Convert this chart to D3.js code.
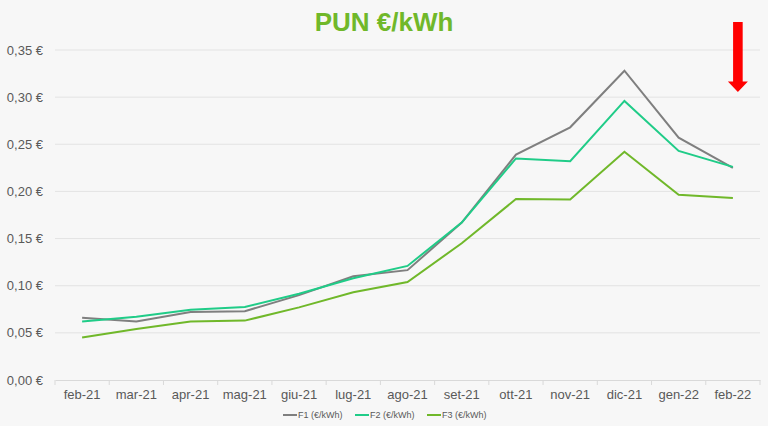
<!DOCTYPE html>
<html>
<head>
<meta charset="utf-8">
<script src="https://cdn.jsdelivr.net/npm/d3@7"></script>
<style>
  html, body { margin: 0; padding: 0; background: #f7f7f7; }
  svg { display: block; font-family: "Liberation Sans", Arial, sans-serif; }
</style>
</head>
<body>
<svg id="chart" width="768" height="426"></svg>
<script>
const categories = ["feb-21","mar-21","apr-21","mag-21","giu-21","lug-21","ago-21","set-21","ott-21","nov-21","dic-21","gen-22","feb-22"];
const f1Values = [0.066, 0.062, 0.072, 0.073, 0.090, 0.110, 0.1165, 0.167, 0.239, 0.268, 0.328, 0.257, 0.225];
const f2Values = [0.062, 0.067, 0.0745, 0.0775, 0.0915, 0.108, 0.121, 0.167, 0.235, 0.232, 0.296, 0.243, 0.226];
const f3Values = [0.045, 0.054, 0.062, 0.063, 0.077, 0.093, 0.104, 0.145, 0.192, 0.1915, 0.242, 0.1965, 0.193];
const yTicks = [0, 0.05, 0.10, 0.15, 0.20, 0.25, 0.30, 0.35];
const seriesNames = ["F1 (€/kWh)", "F2 (€/kWh)", "F3 (€/kWh)"];
const seriesColors = ["#7f7f7f", "#20cc88", "#70b82a"];
const title = "PUN €/kWh";

const series = [f1Values, f2Values, f3Values].map((v, i) => ({ name: seriesNames[i], color: seriesColors[i], values: v }));

const svg = d3.select("#chart");
const margin = { left: 55, right: 8, top: 50, bottom: 46 };
const W = 768, H = 426;

const x = d3.scaleBand().domain(categories).range([margin.left, 760]);
const y = d3.scaleLinear().domain([0, 0.35]).range([380, 50]);

// gridlines
svg.append("g").selectAll("line").data(yTicks.filter(d => d > 0)).join("line")
  .attr("x1", margin.left).attr("x2", 760)
  .attr("y1", d => y(d)).attr("y2", d => y(d))
  .attr("stroke", "#e3e3e3").attr("stroke-width", 1);

// y labels
const fmt = d => d3.format(".2f")(d).replace(".", ",") + " €";
svg.append("g").selectAll("text").data(yTicks).join("text")
  .attr("x", 43).attr("y", d => y(d)).attr("dy", "0.35em")
  .attr("text-anchor", "end").attr("font-size", 13).attr("fill", "#595959")
  .text(fmt);

// x axis
const xAxis = d3.axisBottom(x).tickSize(0).tickPadding(10);
const gx = svg.append("g").attr("transform", `translate(0,${y(0)})`).call(xAxis);
gx.select(".domain").attr("stroke", "#d9d9d9");
gx.selectAll("text").attr("font-size", 13).attr("fill", "#595959").attr("font-family", "Liberation Sans, Arial, sans-serif");
// boundary ticks
const bounds = categories.map(c => x(c)).concat([x(categories[categories.length - 1]) + x.bandwidth()]);
svg.append("g").selectAll("line").data(bounds).join("line")
  .attr("x1", d => d).attr("x2", d => d)
  .attr("y1", y(0)).attr("y2", y(0) + 5)
  .attr("stroke", "#d9d9d9");

// lines
const line = d3.line().x((d, i) => x(categories[i]) + x.bandwidth() / 2).y(d => y(d));
svg.append("g").selectAll("path").data(series).join("path")
  .attr("d", d => line(d.values))
  .attr("fill", "none").attr("stroke", d => d.color).attr("stroke-width", 2)
  .attr("stroke-linejoin", "miter");

// title
svg.append("text").attr("x", 384).attr("y", 31).attr("text-anchor", "middle")
  .attr("font-size", 26).attr("font-weight", "bold").attr("fill", "#70b82a")
  .text(title);

// legend
const legendX = [283, 355, 427];
const lg = svg.append("g").selectAll("g").data(series).join("g")
  .attr("transform", (d, i) => `translate(${legendX[i]},415)`);
lg.append("line").attr("x1", 0).attr("x2", 14).attr("y1", 0).attr("y2", 0)
  .attr("stroke", d => d.color).attr("stroke-width", 2);
lg.append("text").attr("x", 15).attr("y", 0).attr("dy", "0.35em")
  .attr("font-size", 9).attr("fill", "#595959").text(d => d.name);

// red arrow
const ax = x(categories[categories.length - 1]) + x.bandwidth() / 2 + 5;
svg.append("path")
  .attr("d", `M${ax - 4.8},22 L${ax + 4.8},22 L${ax + 4.8},81.5 L${ax + 10},81.5 L${ax},92 L${ax - 10},81.5 L${ax - 4.8},81.5 Z`)
  .attr("fill", "#ff0000");
</script>
</body>
</html>
